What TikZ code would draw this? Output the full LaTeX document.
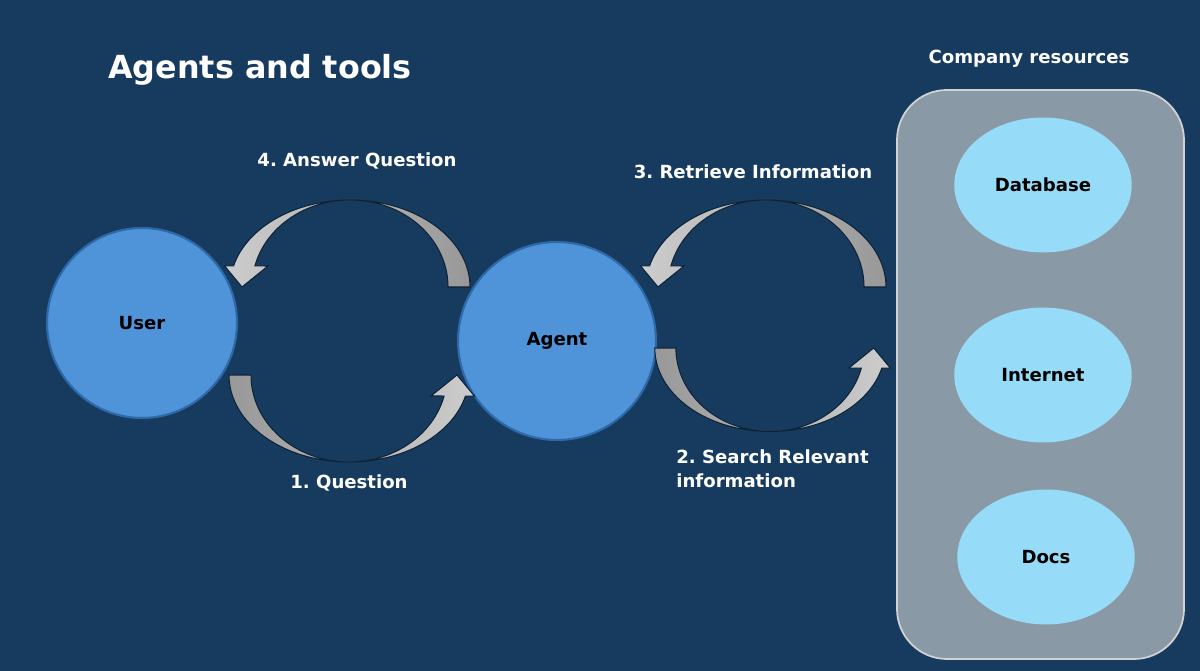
\documentclass[tikz,border=0pt]{standalone}
\usepackage{fontspec}
\setmainfont{DejaVu Sans}
\usetikzlibrary{shapes.geometric}

\definecolor{bgblue}{RGB}{23,59,95}
\definecolor{roleblue}{RGB}{79,147,217}
\definecolor{roleedge}{RGB}{46,105,168}
\definecolor{resblue}{RGB}{150,220,248}
\definecolor{boxgray}{RGB}{138,153,166}
\definecolor{boxedge}{RGB}{210,210,210}
\definecolor{arrowlight}{RGB}{205,205,205}
\definecolor{arrowmid}{RGB}{180,180,180}
\definecolor{arrowdark}{RGB}{152,152,152}
\definecolor{arrowedge}{RGB}{14,34,54}

\tikzset{
  role/.style={circle, draw=roleedge, line width=1.2pt, fill=roleblue, text=black},
  resource/.style={ellipse, fill=resblue, minimum width=3.55cm, minimum height=2.7cm, text=black},
  steplabel/.style={text=white, inner sep=0pt},
  arrowshade/.style={left color=arrowlight, middle color=arrowmid, right color=arrowdark},
  arrowflip/.style={left color=arrowdark, middle color=arrowmid, right color=arrowlight},
  arrowbody/.style={arrowshade},
  curvedarrow/.pic={
    \path[arrowbody, draw=arrowedge, line width=0.6pt] (98,0) -- (120,0)
      arc[start angle=0, end angle=166, x radius=120, y radius=87]
      -- ++(-9,0) -- (-108,0) -- (-82,21) -- (166:98 and 87)
      arc[start angle=166, end angle=0, x radius=98, y radius=87] -- cycle;
  }
}

\begin{document}
\begin{tikzpicture}[x=0.02cm, y=0.02cm, every node/.style={font=\fontsize{10.3}{13.6}\selectfont\bfseries\frenchspacing}]
    \fill[bgblue] (0,0) rectangle (1200,671);
    \useasboundingbox (0,0) rectangle (1200,671);

    \node[steplabel, font=\fontsize{18.1}{22}\selectfont\bfseries] (title) at (260,601) {Agents and tools};

    % company side
    \draw[boxedge, fill=boxgray, line width=1pt, rounded corners=1cm] (897,12) rectangle (1184,581);
    \node[steplabel] (company) at (1029,612) {Company resources};
    \node[resource] (db) at (1043,486) {Database};
    \node[resource] (web) at (1043,296) {Internet};
    \node[resource] (docs) at (1046,114) {Docs};

    \node[role, minimum size=3.8cm] (user) at (142,348) {User};
    \node[role, minimum size=3.96cm] (agent) at (557,330) {Agent};

    % loop arrows
    \pic at (350,384) {curvedarrow};
    \pic[rotate=180, arrowbody/.style={arrowflip}] at (349,296) {curvedarrow};
    \pic at (766,384) {curvedarrow};
    \pic[rotate=180, scale=0.96, arrowbody/.style={arrowflip}] at (770,323) {curvedarrow};

    \node[steplabel] (answer) at (357,510) {4. Answer Question};
    \node[steplabel] (question) at (349,188) {1. Question};
    \node[steplabel] (retrieve) at (753,499) {3. Retrieve Information};
    \node[steplabel, anchor=west, align=left] (search) at (676,202) {2. Search Relevant\\information};
\end{tikzpicture}
\end{document}
